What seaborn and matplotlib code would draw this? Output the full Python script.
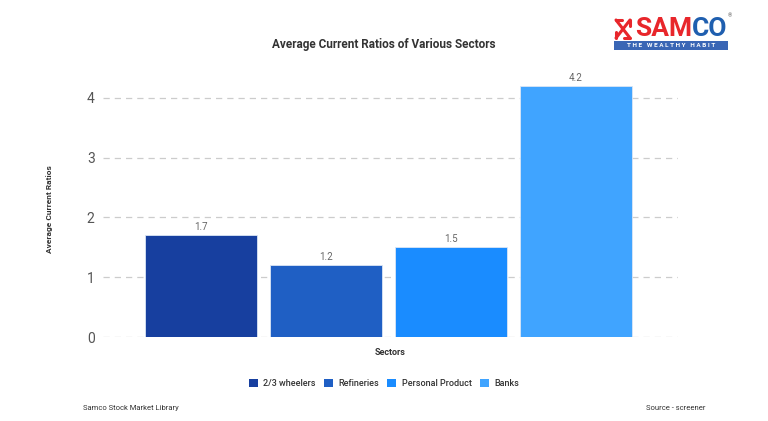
import numpy as np
import matplotlib
matplotlib.use("Agg")
import matplotlib.pyplot as plt
import seaborn as sns
import pandas as pd
from matplotlib.patches import Rectangle, Patch
from matplotlib.lines import Line2D

sectors = ['2/3 wheelers', 'Refineries', 'Personal Product', 'Banks']
ratios = [1.7, 1.2, 1.5, 4.2]
bar_colors = ['#173F9F', '#1F5FC4', '#1A8CFF', '#40A4FF']

df = pd.DataFrame({'Sector': sectors, 'Ratio': ratios})

sns.set_theme(style='white')
plt.rcParams['font.family'] = ['Roboto', 'DejaVu Sans']

fig = plt.figure(figsize=(7.68, 4.21), dpi=100)
ax = fig.add_axes([0.134, 0.1995, 0.749, 0.6248])

sns.barplot(data=df, x='Sector', y='Ratio', hue='Sector', palette=bar_colors,
            saturation=1, width=0.9, legend=False, ax=ax, edgecolor='#dbe6f5',
            linewidth=0.6, zorder=3)

for i, v in enumerate(ratios):
    ax.text(i, v + 0.05, f'{v}', ha='center', va='bottom', fontsize=7, color='#666666')

ax.set_xlim(-0.784, 3.816)
ax.set_ylim(0, 4.4)
ax.set_yticks([0, 1, 2, 3, 4])
ax.set_xticks([])
ax.yaxis.grid(True, linestyle=(0, (5, 4)), color='#cccccc', linewidth=0.9, zorder=0)
ax.set_axisbelow(True)
for s in ax.spines.values():
    s.set_visible(False)
ax.tick_params(axis='y', labelsize=10, labelcolor='#555555', length=0, pad=6)
ax.set_xlabel('Sectors', fontsize=6.5, fontweight='bold', color='#333333', labelpad=8)
ax.set_ylabel('Average Current Ratios', fontsize=6, fontweight='bold', color='#333333')
ax.yaxis.set_label_coords(-0.087, 0.485)

fig.text(0.5, 0.895, 'Average Current Ratios of Various Sectors', ha='center', va='center',
         fontsize=8.5, fontweight='bold', color='#333333')

handles = [Patch(facecolor=c, edgecolor='none') for c in bar_colors]
fig.legend(handles, sectors, loc='center', bbox_to_anchor=(0.5, 0.09), ncol=4, frameon=False,
           prop={'size': 6.5, 'weight': 'medium'}, handlelength=1.0, handleheight=1.0,
           handletextpad=0.6, columnspacing=0.9, labelcolor='#333333')

fig.text(83 / 768, 1 - 408 / 421, 'Samco Stock Market Library', ha='left', va='center',
         fontsize=5.5, color='#333333')
fig.text(706 / 768, 1 - 408 / 421, 'Source - screener', ha='right', va='center',
         fontsize=5.5, color='#333333')

# logo
fig.text(692 / 768, 1 - 29 / 421, 'SAM', ha='right', va='center', fontsize=19,
         fontweight='bold', color='#E8262B')
fig.text(692 / 768, 1 - 29 / 421, 'CO', ha='left', va='center', fontsize=19,
         fontweight='bold', color='#1F5FAF')
fig.patches.append(Rectangle((614 / 768, 1 - 50 / 421), 114 / 768, 9 / 421,
                             transform=fig.transFigure, facecolor='#3a66b5', edgecolor='none'))
fig.text(671 / 768, 1 - 45.5 / 421, 'T H E   W E A L T H Y   H A B I T', ha='center', va='center',
         fontsize=4.6, color='white', fontweight='bold')
fig.text(730 / 768, 1 - 16 / 421, '®', ha='center', va='center', fontsize=4, color='#555555')
sym = [((616, 20), (630, 38)), ((616, 38), (630, 20)), ((616, 20), (622, 20)),
       ((630, 38), (624, 38)), ((616, 38), (616, 32)), ((630, 20), (630, 26))]
for (x0, y0), (x1, y1) in sym:
    fig.lines.append(Line2D([x0 / 768, x1 / 768], [1 - y0 / 421, 1 - y1 / 421],
                            transform=fig.transFigure, color='#E8262B', linewidth=2.2))

fig.savefig('out.png', dpi=100)
